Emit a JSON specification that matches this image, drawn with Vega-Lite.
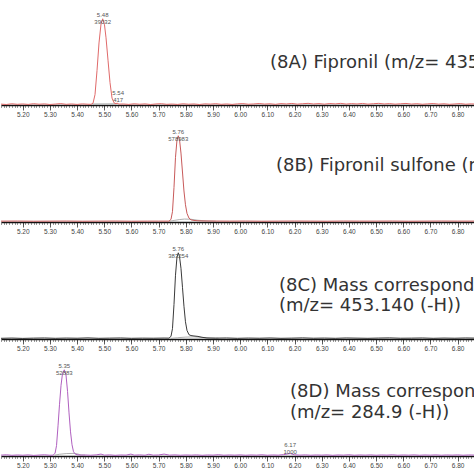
{
"$schema":"https://vega.github.io/schema/vega-lite/v6.json",
"background":"white",
"padding":{"left":0,"right":0,"top":5,"bottom":0},
"spacing":4,
"config":{"view":{"stroke":null}},
"datasets":{
"A":[{"t":5.12,"v":1.0},{"t":5.14,"v":0.6},{"t":5.16,"v":1.4},{"t":5.18,"v":0.8},{"t":5.20,"v":1.2},{"t":5.22,"v":0.7},{"t":5.24,"v":1.5},{"t":5.26,"v":0.9},{"t":5.28,"v":1.3},{"t":5.30,"v":0.6},{"t":5.32,"v":1.1},{"t":5.34,"v":1.6},{"t":5.36,"v":0.8},{"t":5.38,"v":1.2},{"t":5.40,"v":0.7},{"t":5.42,"v":1.3},{"t":5.44,"v":0.9},{"t":5.4512,"v":0.8},{"t":5.4585,"v":2},{"t":5.4659,"v":12},{"t":5.4733,"v":40},{"t":5.4806,"v":72},{"t":5.488,"v":94},{"t":5.4942,"v":100},{"t":5.5008,"v":93},{"t":5.5064,"v":78},{"t":5.5137,"v":52},{"t":5.5211,"v":26},{"t":5.5285,"v":8},{"t":5.5358,"v":2.5},{"t":5.5431,"v":1.5},{"t":5.5468,"v":2.2},{"t":5.5542,"v":1.0},{"t":5.57,"v":1.2},{"t":5.59,"v":0.7},{"t":5.61,"v":1.4},{"t":5.63,"v":0.9},{"t":5.65,"v":1.3},{"t":5.67,"v":0.6},{"t":5.69,"v":1.2},{"t":5.71,"v":1.5},{"t":5.73,"v":0.8},{"t":5.75,"v":1.1},{"t":5.77,"v":0.7},{"t":5.79,"v":1.4},{"t":5.81,"v":0.9},{"t":5.83,"v":1.2},{"t":5.85,"v":0.6},{"t":5.87,"v":1.3},{"t":5.89,"v":1.0},{"t":5.91,"v":1.5},{"t":5.93,"v":0.8},{"t":5.95,"v":1.2},{"t":5.97,"v":0.7},{"t":5.99,"v":1.3},{"t":6.01,"v":1.6},{"t":6.03,"v":0.9},{"t":6.05,"v":1.2},{"t":6.07,"v":1.7},{"t":6.09,"v":1.1},{"t":6.11,"v":1.4},{"t":6.13,"v":0.8},{"t":6.15,"v":1.6},{"t":6.17,"v":1.2},{"t":6.19,"v":1.8},{"t":6.21,"v":1.0},{"t":6.23,"v":1.5},{"t":6.25,"v":1.9},{"t":6.27,"v":1.2},{"t":6.29,"v":1.6},{"t":6.31,"v":1.0},{"t":6.33,"v":1.7},{"t":6.35,"v":1.3},{"t":6.37,"v":1.9},{"t":6.39,"v":1.1},{"t":6.41,"v":1.6},{"t":6.43,"v":1.2},{"t":6.45,"v":1.8},{"t":6.47,"v":1.0},{"t":6.49,"v":1.5},{"t":6.51,"v":1.9},{"t":6.53,"v":1.2},{"t":6.55,"v":1.6},{"t":6.57,"v":1.0},{"t":6.59,"v":1.4},{"t":6.61,"v":1.8},{"t":6.63,"v":1.1},{"t":6.65,"v":1.5},{"t":6.67,"v":0.9},{"t":6.69,"v":1.3},{"t":6.71,"v":1.7},{"t":6.73,"v":1.0},{"t":6.75,"v":1.4},{"t":6.77,"v":0.8},{"t":6.79,"v":1.2},{"t":6.81,"v":1.6},{"t":6.83,"v":0.9},{"t":6.85,"v":1.3},{"t":6.87,"v":1.0}],
"Ag":[{"t":5.457,"v":1.2},{"t":5.545,"v":1.4}],
"Al":[{"t":5.4942,"v":101,"l":"5.48\n39032"},{"t":5.551,"v":10,"l":"5.54\n417"}],
"B":[{"t":5.12,"v":1.0},{"t":5.18,"v":1.1},{"t":5.24,"v":0.9},{"t":5.30,"v":1.0},{"t":5.36,"v":1.1},{"t":5.42,"v":0.9},{"t":5.48,"v":1.0},{"t":5.54,"v":1.1},{"t":5.60,"v":0.9},{"t":5.66,"v":1.0},{"t":5.70,"v":1.0},{"t":5.7381,"v":1.0},{"t":5.7454,"v":3},{"t":5.7509,"v":12},{"t":5.7565,"v":40},{"t":5.762,"v":75},{"t":5.7675,"v":95},{"t":5.7723,"v":100},{"t":5.7767,"v":96},{"t":5.7822,"v":80},{"t":5.7877,"v":58},{"t":5.7932,"v":36},{"t":5.7987,"v":20},{"t":5.8043,"v":10},{"t":5.8116,"v":4.5},{"t":5.819,"v":2.5},{"t":5.83,"v":1.8},{"t":5.8447,"v":1.4},{"t":5.8594,"v":1.2},{"t":5.90,"v":1.1},{"t":5.96,"v":1.0},{"t":6.02,"v":1.1},{"t":6.08,"v":0.9},{"t":6.14,"v":1.0},{"t":6.20,"v":1.1},{"t":6.26,"v":1.0},{"t":6.32,"v":0.9},{"t":6.38,"v":1.1},{"t":6.44,"v":1.0},{"t":6.50,"v":1.0},{"t":6.56,"v":1.1},{"t":6.62,"v":0.9},{"t":6.68,"v":1.0},{"t":6.74,"v":1.1},{"t":6.80,"v":1.0},{"t":6.87,"v":1.0}],
"Bg":[{"t":5.7381,"v":0.8},{"t":5.757,"v":1.8},{"t":5.776,"v":2.8},{"t":5.795,"v":3.4},{"t":5.819,"v":3.2},{"t":5.845,"v":2.0},{"t":5.878,"v":1.2},{"t":5.91,"v":0.8}],
"Bl":[{"t":5.7723,"v":101,"l":"5.76\n578983"}],
"C":[{"t":5.12,"v":0.8},{"t":5.16,"v":1.1},{"t":5.20,"v":0.7},{"t":5.24,"v":1.0},{"t":5.28,"v":1.2},{"t":5.32,"v":0.8},{"t":5.36,"v":1.1},{"t":5.40,"v":0.9},{"t":5.44,"v":1.3},{"t":5.48,"v":0.8},{"t":5.52,"v":1.0},{"t":5.56,"v":1.2},{"t":5.60,"v":0.8},{"t":5.64,"v":1.0},{"t":5.68,"v":0.9},{"t":5.72,"v":1.1},{"t":5.7381,"v":1.0},{"t":5.7454,"v":3},{"t":5.7509,"v":12},{"t":5.7565,"v":40},{"t":5.762,"v":74},{"t":5.7675,"v":95},{"t":5.7723,"v":100},{"t":5.7767,"v":96},{"t":5.7822,"v":82},{"t":5.7877,"v":60},{"t":5.7932,"v":38},{"t":5.7987,"v":20},{"t":5.8043,"v":10},{"t":5.8116,"v":5},{"t":5.819,"v":4},{"t":5.83,"v":3.5},{"t":5.8447,"v":3},{"t":5.8594,"v":2},{"t":5.8778,"v":1.2},{"t":5.91,"v":1.0},{"t":5.95,"v":1.2},{"t":5.99,"v":0.8},{"t":6.03,"v":1.1},{"t":6.07,"v":0.9},{"t":6.11,"v":1.2},{"t":6.15,"v":0.8},{"t":6.19,"v":1.0},{"t":6.23,"v":1.3},{"t":6.27,"v":0.9},{"t":6.31,"v":1.1},{"t":6.35,"v":0.8},{"t":6.39,"v":1.2},{"t":6.43,"v":1.0},{"t":6.47,"v":0.8},{"t":6.51,"v":1.1},{"t":6.55,"v":1.3},{"t":6.59,"v":0.9},{"t":6.63,"v":1.0},{"t":6.67,"v":1.2},{"t":6.71,"v":0.8},{"t":6.75,"v":1.1},{"t":6.79,"v":0.9},{"t":6.83,"v":1.2},{"t":6.87,"v":1.0}],
"Cg":[{"t":5.745,"v":0.8},{"t":5.77,"v":1.5},{"t":5.80,"v":2.2},{"t":5.83,"v":2.5},{"t":5.86,"v":1.8},{"t":5.89,"v":1.0},{"t":5.92,"v":0.8}],
"Cl":[{"t":5.7723,"v":101,"l":"5.76\n383254"}],
"D":[{"t":5.12,"v":1.0},{"t":5.14,"v":1.4},{"t":5.16,"v":0.8},{"t":5.18,"v":1.2},{"t":5.20,"v":0.9},{"t":5.22,"v":1.3},{"t":5.24,"v":0.7},{"t":5.26,"v":1.1},{"t":5.28,"v":1.4},{"t":5.30,"v":0.9},{"t":5.3114,"v":1.0},{"t":5.3188,"v":3},{"t":5.3243,"v":12},{"t":5.3298,"v":35},{"t":5.3353,"v":60},{"t":5.3409,"v":82},{"t":5.3464,"v":96},{"t":5.353,"v":100},{"t":5.3592,"v":94},{"t":5.3648,"v":75},{"t":5.3703,"v":50},{"t":5.3758,"v":28},{"t":5.3813,"v":13},{"t":5.3868,"v":5},{"t":5.3924,"v":2.5},{"t":5.3997,"v":1.5},{"t":5.4107,"v":1.0},{"t":5.43,"v":1.2},{"t":5.45,"v":0.9},{"t":5.47,"v":1.3},{"t":5.488,"v":2.2},{"t":5.50,"v":1.0},{"t":5.52,"v":1.3},{"t":5.54,"v":0.8},{"t":5.56,"v":1.2},{"t":5.58,"v":1.0},{"t":5.598,"v":2.2},{"t":5.61,"v":1.0},{"t":5.63,"v":1.3},{"t":5.65,"v":0.9},{"t":5.664,"v":2.0},{"t":5.68,"v":1.0},{"t":5.70,"v":1.2},{"t":5.72,"v":2.2},{"t":5.74,"v":1.0},{"t":5.76,"v":1.3},{"t":5.78,"v":0.9},{"t":5.80,"v":1.2},{"t":5.82,"v":1.0},{"t":5.84,"v":1.3},{"t":5.86,"v":0.8},{"t":5.88,"v":1.2},{"t":5.90,"v":1.0},{"t":5.92,"v":1.5},{"t":5.94,"v":0.9},{"t":5.96,"v":1.2},{"t":5.98,"v":1.0},{"t":6.00,"v":1.3},{"t":6.02,"v":0.9},{"t":6.04,"v":1.2},{"t":6.06,"v":1.0},{"t":6.08,"v":1.4},{"t":6.10,"v":0.9},{"t":6.12,"v":1.2},{"t":6.14,"v":1.0},{"t":6.16,"v":1.6},{"t":6.184,"v":2.8},{"t":6.20,"v":1.4},{"t":6.22,"v":1.0},{"t":6.24,"v":1.3},{"t":6.26,"v":0.9},{"t":6.28,"v":1.2},{"t":6.30,"v":1.0},{"t":6.32,"v":1.3},{"t":6.34,"v":0.8},{"t":6.36,"v":1.2},{"t":6.38,"v":1.0},{"t":6.40,"v":1.4},{"t":6.42,"v":0.9},{"t":6.44,"v":1.2},{"t":6.46,"v":1.0},{"t":6.48,"v":1.3},{"t":6.50,"v":0.9},{"t":6.52,"v":1.2},{"t":6.54,"v":1.0},{"t":6.56,"v":1.4},{"t":6.58,"v":0.9},{"t":6.60,"v":1.2},{"t":6.62,"v":1.0},{"t":6.64,"v":1.3},{"t":6.66,"v":0.9},{"t":6.68,"v":1.2},{"t":6.70,"v":1.0},{"t":6.72,"v":1.3},{"t":6.74,"v":0.9},{"t":6.76,"v":1.2},{"t":6.78,"v":1.0},{"t":6.80,"v":1.3},{"t":6.82,"v":0.9},{"t":6.84,"v":1.2},{"t":6.87,"v":1.0}],
"Dg":[{"t":5.318,"v":1.0},{"t":5.335,"v":2.0},{"t":5.36,"v":2.8},{"t":5.385,"v":3.0},{"t":5.40,"v":2.5},{"t":5.415,"v":1.2},{"t":5.43,"v":0.9}],
"Dl":[{"t":5.353,"v":101,"l":"5.35\n52883"},{"t":6.184,"v":9,"l":"6.17\n1000"}],
"titles":[{"p":"A","t":6.1095,"v":48.7,"l":"(8A) Fipronil (m/z= 435.0 (-H))"},{"p":"B","t":6.132,"v":64.4,"l":"(8B) Fipronil sulfone (m/z= 451.0 (-H))"},{"p":"C","t":6.1426,"v":62,"l":"(8C) Mass corresponds to\n(m/z= 453.140 (-H))"},{"p":"D","t":6.1835,"v":73.7,"l":"(8D) Mass corresponds to\n(m/z= 284.9 (-H))"}]
},
"vconcat":[
{"width":474,"height":100,"resolve":{"axis":{"x":"independent"}},"layer":[
 {"data":{"name":"Ag"},"mark":{"type":"line","color":"#9a9a9a","strokeWidth":0.8,"clip":true},"encoding":{"x":{"field":"t","type":"quantitative","scale":{"domain":[5.12,6.864],"nice":false,"zero":false},"axis":{"orient":"bottom","tickCount":175,"labels":false,"domain":false,"tickSize":2.5,"tickColor":"#555","tickWidth":0.6,"grid":false,"title":null}},"y":{"field":"v","type":"quantitative","scale":{"domain":[0,116],"nice":false},"axis":null}}},
 {"data":{"name":"A"},"mark":{"type":"line","color":"#e06a6a","strokeWidth":1,"clip":true},"encoding":{"x":{"field":"t","type":"quantitative","scale":{"domain":[5.12,6.864],"nice":false,"zero":false},"axis":{"orient":"bottom","values":[5.2,5.3,5.4,5.5,5.6,5.7,5.8,5.9,6.0,6.1,6.2,6.3,6.4,6.5,6.6,6.7,6.8],"format":".2f","tickSize":5,"tickColor":"#333","tickWidth":0.8,"labelFontSize":6.5,"labelColor":"#444","labelFont":"Liberation Sans","labelPadding":1,"domainColor":"#111","domainWidth":1.5,"grid":false,"title":null,"labelFlush":false,"labelOverlap":false}},"y":{"field":"v","type":"quantitative","scale":{"domain":[0,116],"nice":false},"axis":null}}},
 {"data":{"name":"Al"},"mark":{"type":"text","fontSize":6,"color":"#555","baseline":"bottom","lineBreak":"\n","lineHeight":7,"font":"Liberation Sans","clip":true},"encoding":{"x":{"field":"t","type":"quantitative","axis":null},"y":{"field":"v","type":"quantitative","axis":null},"text":{"field":"l"}}},
 {"data":{"name":"titles"},"transform":[{"filter":"datum.p=='A'"}],"mark":{"type":"text","font":"DejaVu Sans","fontSize":18,"color":"#333","align":"left","baseline":"middle","lineBreak":"\n","lineHeight":20.5,"clip":true},"encoding":{"x":{"field":"t","type":"quantitative","axis":null},"y":{"field":"v","type":"quantitative","axis":null},"text":{"field":"l"}}}
]},
{"width":474,"height":100,"resolve":{"axis":{"x":"independent"}},"layer":[
 {"data":{"name":"Bg"},"mark":{"type":"line","color":"#9a9a9a","strokeWidth":0.8,"clip":true},"encoding":{"x":{"field":"t","type":"quantitative","scale":{"domain":[5.12,6.864],"nice":false,"zero":false},"axis":{"orient":"bottom","tickCount":175,"labels":false,"domain":false,"tickSize":2.5,"tickColor":"#555","tickWidth":0.6,"grid":false,"title":null}},"y":{"field":"v","type":"quantitative","scale":{"domain":[0,116],"nice":false},"axis":null}}},
 {"data":{"name":"B"},"mark":{"type":"line","color":"#c85a5a","strokeWidth":1,"clip":true},"encoding":{"x":{"field":"t","type":"quantitative","scale":{"domain":[5.12,6.864],"nice":false,"zero":false},"axis":{"orient":"bottom","values":[5.2,5.3,5.4,5.5,5.6,5.7,5.8,5.9,6.0,6.1,6.2,6.3,6.4,6.5,6.6,6.7,6.8],"format":".2f","tickSize":5,"tickColor":"#333","tickWidth":0.8,"labelFontSize":6.5,"labelColor":"#444","labelFont":"Liberation Sans","labelPadding":1,"domainColor":"#111","domainWidth":1.5,"grid":false,"title":null,"labelFlush":false,"labelOverlap":false}},"y":{"field":"v","type":"quantitative","scale":{"domain":[0,116],"nice":false},"axis":null}}},
 {"data":{"name":"Bl"},"mark":{"type":"text","fontSize":6,"color":"#555","baseline":"bottom","lineBreak":"\n","lineHeight":7,"font":"Liberation Sans","clip":true},"encoding":{"x":{"field":"t","type":"quantitative","axis":null},"y":{"field":"v","type":"quantitative","axis":null},"text":{"field":"l"}}},
 {"data":{"name":"titles"},"transform":[{"filter":"datum.p=='B'"}],"mark":{"type":"text","font":"DejaVu Sans","fontSize":18,"color":"#333","align":"left","baseline":"middle","lineBreak":"\n","lineHeight":20.5,"clip":true},"encoding":{"x":{"field":"t","type":"quantitative","axis":null},"y":{"field":"v","type":"quantitative","axis":null},"text":{"field":"l"}}}
]},
{"width":474,"height":100,"resolve":{"axis":{"x":"independent"}},"layer":[
 {"data":{"name":"Cg"},"mark":{"type":"line","color":"#9a9a9a","strokeWidth":0.8,"clip":true},"encoding":{"x":{"field":"t","type":"quantitative","scale":{"domain":[5.12,6.864],"nice":false,"zero":false},"axis":{"orient":"bottom","tickCount":175,"labels":false,"domain":false,"tickSize":2.5,"tickColor":"#555","tickWidth":0.6,"grid":false,"title":null}},"y":{"field":"v","type":"quantitative","scale":{"domain":[0,116],"nice":false},"axis":null}}},
 {"data":{"name":"C"},"mark":{"type":"line","color":"#3a3a3a","strokeWidth":1,"clip":true},"encoding":{"x":{"field":"t","type":"quantitative","scale":{"domain":[5.12,6.864],"nice":false,"zero":false},"axis":{"orient":"bottom","values":[5.2,5.3,5.4,5.5,5.6,5.7,5.8,5.9,6.0,6.1,6.2,6.3,6.4,6.5,6.6,6.7,6.8],"format":".2f","tickSize":5,"tickColor":"#333","tickWidth":0.8,"labelFontSize":6.5,"labelColor":"#444","labelFont":"Liberation Sans","labelPadding":1,"domainColor":"#111","domainWidth":1.5,"grid":false,"title":null,"labelFlush":false,"labelOverlap":false}},"y":{"field":"v","type":"quantitative","scale":{"domain":[0,116],"nice":false},"axis":null}}},
 {"data":{"name":"Cl"},"mark":{"type":"text","fontSize":6,"color":"#555","baseline":"bottom","lineBreak":"\n","lineHeight":7,"font":"Liberation Sans","clip":true},"encoding":{"x":{"field":"t","type":"quantitative","axis":null},"y":{"field":"v","type":"quantitative","axis":null},"text":{"field":"l"}}},
 {"data":{"name":"titles"},"transform":[{"filter":"datum.p=='C'"}],"mark":{"type":"text","font":"DejaVu Sans","fontSize":18,"color":"#333","align":"left","baseline":"middle","lineBreak":"\n","lineHeight":20.5,"clip":true},"encoding":{"x":{"field":"t","type":"quantitative","axis":null},"y":{"field":"v","type":"quantitative","axis":null},"text":{"field":"l"}}}
]},
{"width":474,"height":100,"resolve":{"axis":{"x":"independent"}},"layer":[
 {"data":{"name":"Dg"},"mark":{"type":"line","color":"#9a9a9a","strokeWidth":0.8,"clip":true},"encoding":{"x":{"field":"t","type":"quantitative","scale":{"domain":[5.12,6.864],"nice":false,"zero":false},"axis":{"orient":"bottom","tickCount":175,"labels":false,"domain":false,"tickSize":2.5,"tickColor":"#555","tickWidth":0.6,"grid":false,"title":null}},"y":{"field":"v","type":"quantitative","scale":{"domain":[0,116],"nice":false},"axis":null}}},
 {"data":{"name":"D"},"mark":{"type":"line","color":"#b060c0","strokeWidth":1,"clip":true},"encoding":{"x":{"field":"t","type":"quantitative","scale":{"domain":[5.12,6.864],"nice":false,"zero":false},"axis":{"orient":"bottom","values":[5.2,5.3,5.4,5.5,5.6,5.7,5.8,5.9,6.0,6.1,6.2,6.3,6.4,6.5,6.6,6.7,6.8],"format":".2f","tickSize":5,"tickColor":"#333","tickWidth":0.8,"labelFontSize":6.5,"labelColor":"#444","labelFont":"Liberation Sans","labelPadding":1,"domainColor":"#111","domainWidth":1.5,"grid":false,"title":null,"labelFlush":false,"labelOverlap":false}},"y":{"field":"v","type":"quantitative","scale":{"domain":[0,116],"nice":false},"axis":null}}},
 {"data":{"name":"Dl"},"mark":{"type":"text","fontSize":6,"color":"#555","baseline":"bottom","lineBreak":"\n","lineHeight":7,"font":"Liberation Sans","clip":true},"encoding":{"x":{"field":"t","type":"quantitative","axis":null},"y":{"field":"v","type":"quantitative","axis":null},"text":{"field":"l"}}},
 {"data":{"name":"titles"},"transform":[{"filter":"datum.p=='D'"}],"mark":{"type":"text","font":"DejaVu Sans","fontSize":18,"color":"#333","align":"left","baseline":"middle","lineBreak":"\n","lineHeight":20.5,"clip":true},"encoding":{"x":{"field":"t","type":"quantitative","axis":null},"y":{"field":"v","type":"quantitative","axis":null},"text":{"field":"l"}}}
]}
]
}
